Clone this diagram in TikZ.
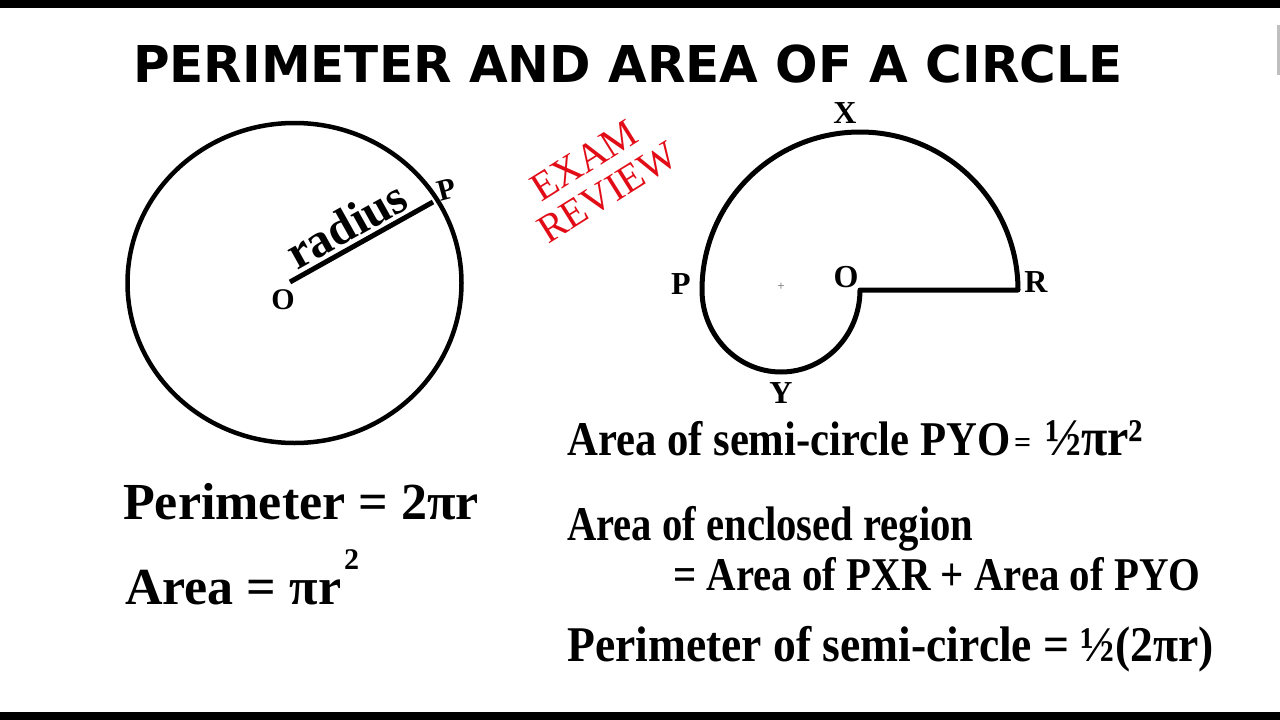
\documentclass[tikz,border=0pt]{standalone}
\usepackage{fontspec}
\usepackage{graphicx}
\setmainfont{Liberation Serif}
\newfontfamily\titlefont{DejaVu Sans}
\newcommand\fitto[3]{\resizebox{#1}{#2}{\smash{#3}\vphantom{A}}}
\definecolor{examred}{RGB}{226,12,22}
\tikzset{
  txt/.style={inner sep=0pt, anchor=base west, font=\bfseries},
  lbl/.style={inner sep=0pt, font=\bfseries\fontsize{32}{32}\selectfont},
  lbls/.style={inner sep=0pt, font=\bfseries\fontsize{30}{30}\selectfont},
  exam/.style={inner sep=0pt, anchor=base west, rotate=32, text=examred, font=\fontsize{40}{40}\selectfont},
  curve/.style={line width=5pt, line join=round},
}
\begin{document}
\begin{tikzpicture}[x=1pt,y=-1pt]
\useasboundingbox (0,0) rectangle (1280,720);
\fill[white] (0,0) rectangle (1280,720);
\fill[black] (0,0) rectangle (1280,8);
\fill[black] (0,712) rectangle (1280,720);
\fill[black!25] (1277,25) rectangle (1280,75);

% title
\node[txt] (title) at (133,82) {\titlefont\bfseries\fitto{989pt}{37pt}{PERIMETER AND AREA OF A CIRCLE}};

% left circle
\coordinate (C0) at (294.5,283);
\draw[line width=4.5pt] (C0) ellipse [x radius=167pt, y radius=160pt];
\coordinate (O1) at (290,282);
\coordinate (P1) at (433,202);
\draw[line width=5pt] (O1) -- node[sloped, above=3pt, pos=0.47, inner sep=0pt, font=\bfseries\fontsize{48}{48}\selectfont] (rad) {radius} (P1);
\node[lbls] (Olab) at (283,300) {O};
\node[lbls, rotate=15] (Plab) at (447,190) {P};

% left formulas
\node[txt, font=\bfseries\fontsize{52}{52}\selectfont] (perim) at (123,519) {Perimeter = 2πr};
\node[txt, font=\bfseries\fontsize{52}{52}\selectfont] (area) at (125,604) {Area = πr};
\node[txt, font=\bfseries\fontsize{30}{30}\selectfont] (sq) at (344,569) {2};

% exam review
\node[exam] (exam) at (541,203) {EXAM};
\node[exam] (review) at (548,245) {REVIEW};

% right figure
\coordinate (P2) at (702,290);
\coordinate (R2) at (1018,290);
\coordinate (O2) at (860,290);
\draw[curve] (P2) arc[start angle=180, end angle=0, radius=158pt] -- (O2)
  arc[start angle=0, end angle=-180, x radius=79pt, y radius=82pt];
\node[inner sep=0pt, text=black!60, font=\fontsize{13}{13}\selectfont] (cen) at (781,287) {+};
\node[lbl] (X) at (845,113) {X};
\node[lbl] (P) at (681,284) {P};
\node[lbl] (O) at (846,277) {O};
\node[lbl] (R) at (1036,282) {R};
\node[lbl] (Y) at (781,393) {Y};

% right formulas
\node[txt] (f1) at (567,455) {\fitto{443pt}{32pt}{Area of semi-circle PYO}};
\node[txt, font=\bfseries\fontsize{30}{30}\selectfont] (eq1) at (1014,452) {=};
\node[txt] (f1b) at (1045,455) {\fitto{98pt}{35pt}{½πr²}};
\node[txt] (f2) at (567,540) {\fitto{406pt}{32pt}{Area of enclosed region}};
\node[txt] (f3) at (673,590) {\fitto{527pt}{31pt}{= Area of PXR + Area of PYO}};
\node[txt] (f4) at (567,661) {\fitto{646pt}{33pt}{Perimeter of semi-circle = ½(2πr)}};
\end{tikzpicture}
\end{document}
